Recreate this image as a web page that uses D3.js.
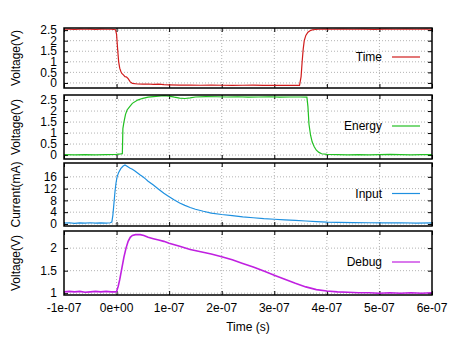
<!DOCTYPE html>
<html>
<head>
<meta charset="utf-8">
<script src="https://cdn.jsdelivr.net/npm/d3@7"></script>
<style>
  body { margin: 0; background: #fff; }
  text { font-family: "Liberation Sans", Arial, sans-serif; }
</style>
</head>
<body>
<div id="chart"></div>
<script>
// time in ns
const timeTrace = [
  [-100, 2.54], [-90, 2.55], [-80, 2.53], [-70, 2.55], [-60, 2.54], [-50, 2.55], [-40, 2.53], [-30, 2.55],
  [-20, 2.54], [-10, 2.54], [-2, 2.52], [0, 2.3], [2, 1.6], [4, 1.0], [6, 0.7], [8, 0.55], [10, 0.45],
  [13, 0.38], [16, 0.3], [19, 0.28], [22, 0.2], [26, 0.05], [30, -0.02], [40, -0.05], [50, -0.06],
  [60, -0.05], [70, -0.07], [80, -0.06], [90, -0.08], [100, -0.09], [120, -0.1], [140, -0.1], [160, -0.11],
  [180, -0.1], [200, -0.11], [220, -0.12], [240, -0.11], [260, -0.1], [280, -0.12], [300, -0.11],
  [320, -0.12], [340, -0.12], [348, -0.12], [351, 0.3], [353, 1.0], [355, 1.6], [357, 2.0], [360, 2.25],
  [364, 2.4], [368, 2.47], [372, 2.51], [378, 2.53], [385, 2.54], [395, 2.55], [410, 2.54], [430, 2.55],
  [450, 2.54], [470, 2.55], [490, 2.53], [510, 2.55], [530, 2.54], [550, 2.55], [570, 2.54], [590, 2.55], [600, 2.54]
];
const energyTrace = [
  [-100, 0.02], [-80, 0.01], [-60, 0.02], [-40, 0.01], [-20, 0.02], [0, 0.03], [8, 0.05], [11, 0.06],
  [12, 1.2], [14, 1.5], [17, 1.85], [20, 2.05], [25, 2.2], [30, 2.35], [40, 2.5], [50, 2.58], [60, 2.63],
  [70, 2.66], [80, 2.68], [90, 2.7], [100, 2.68], [110, 2.63], [120, 2.59], [130, 2.57], [140, 2.6],
  [150, 2.64], [170, 2.66], [190, 2.65], [210, 2.64], [230, 2.65], [250, 2.63], [270, 2.64], [290, 2.65],
  [310, 2.63], [330, 2.64], [350, 2.64], [362, 2.63], [364, 2.2], [366, 1.4], [369, 0.9], [372, 0.6],
  [376, 0.38], [380, 0.22], [385, 0.12], [390, 0.06], [400, 0.03], [420, 0.02], [440, 0.01], [460, 0.02],
  [480, 0.01], [500, 0.02], [520, 0.03], [540, 0.02], [560, 0.01], [580, 0.02], [600, 0.02]
];
const inputTrace = [
  [-100, 0.3], [-90, 0.4], [-80, 0.2], [-70, 0.35], [-60, 0.3], [-50, 0.4], [-40, 0.25], [-30, 0.35],
  [-20, 0.3], [-12, 0.4], [-9, 0.6], [-7, 3], [-5, 7], [-3, 11], [-1, 14], [1, 16], [4, 17.5], [8, 18.8],
  [12, 19.6], [16, 20], [20, 19.6], [25, 19], [30, 18.6], [35, 18], [40, 17.3], [45, 16.6], [50, 16],
  [55, 15.3], [60, 14.5], [70, 13.2], [80, 11.8], [90, 10.4], [100, 9.2], [110, 8.1], [120, 7.1], [130, 6.3],
  [140, 5.6], [150, 5], [165, 4.3], [180, 3.7], [200, 3.2], [220, 2.8], [240, 2.4], [260, 2.1], [280, 1.8],
  [300, 1.6], [320, 1.4], [340, 1.2], [360, 1.0], [380, 0.8], [400, 0.6], [420, 0.55], [450, 0.45],
  [480, 0.4], [510, 0.35], [540, 0.4], [570, 0.3], [600, 0.35]
];
const debugTrace = [
  [-100, 1.03], [-90, 1.04], [-80, 1.03], [-70, 1.04], [-60, 1.02], [-50, 1.03], [-40, 1.04], [-30, 1.03],
  [-20, 1.04], [-10, 1.03], [-2, 1.03], [0, 1.04], [3, 1.15], [6, 1.3], [10, 1.55], [14, 1.8], [18, 2.0],
  [22, 2.15], [26, 2.24], [30, 2.28], [36, 2.3], [45, 2.3], [52, 2.28], [60, 2.24], [70, 2.21], [80, 2.18],
  [90, 2.15], [100, 2.11], [120, 2.04], [140, 1.97], [160, 1.92], [180, 1.87], [200, 1.81], [220, 1.74],
  [240, 1.66], [260, 1.58], [280, 1.49], [300, 1.4], [320, 1.31], [340, 1.22], [360, 1.14], [380, 1.08],
  [400, 1.05], [420, 1.03], [440, 1.02], [460, 1.01], [480, 1.01], [500, 1.0], [520, 1.01], [540, 1.0],
  [560, 1.01], [580, 1.0], [600, 1.01]
];

const xTicks = [-100, 0, 100, 200, 300, 400, 500, 600];
const xTickLabels = ["-1e-07", "0e+00", "1e-07", "2e-07", "3e-07", "4e-07", "5e-07", "6e-07"];

const panels = [
  { name: "Time", unit: "Voltage(V)", data: timeTrace, color: "#d01c1c",
    domain: [-0.24, 2.6], ticks: [0, 0.5, 1, 1.5, 2, 2.5], top: 28, bottom: 88 },
  { name: "Energy", unit: "Voltage(V)", data: energyTrace, color: "#22c022",
    domain: [-0.18, 2.73], ticks: [0, 0.5, 1, 1.5, 2, 2.5], top: 95, bottom: 159 },
  { name: "Input", unit: "Current(mA)", data: inputTrace, color: "#1e90e0",
    domain: [-0.7, 20.7], ticks: [0, 4, 8, 12, 16], top: 163, bottom: 226 },
  { name: "Debug", unit: "Voltage(V)", data: debugTrace, color: "#c020e0",
    domain: [0.96, 2.38], ticks: [1, 1.5, 2], top: 231, bottom: 295 }
];

const width = 474;
const height = 351;
const left = 64, right = 432;

const svg = d3.select("#chart").append("svg")
  .attr("width", width)
  .attr("height", height);

const x = d3.scaleLinear().domain([-100, 600]).range([left, right]);

panels.forEach((p) => {
  const y = d3.scaleLinear().domain(p.domain).range([p.bottom, p.top]);
  const g = svg.append("g");

  // grid
  g.selectAll(".gx").data(xTicks.slice(1, -1)).enter().append("line")
    .attr("x1", (d) => x(d)).attr("x2", (d) => x(d))
    .attr("y1", p.top).attr("y2", p.bottom)
    .attr("stroke", "#a0a0a0").attr("stroke-width", 0.8).attr("stroke-dasharray", "1,2");
  g.selectAll(".gy").data(p.ticks).enter().append("line")
    .attr("x1", left).attr("x2", right)
    .attr("y1", (d) => y(d)).attr("y2", (d) => y(d))
    .attr("stroke", "#a0a0a0").attr("stroke-width", 0.8).attr("stroke-dasharray", "1,2");

  // inner ticks
  const yAxisL = d3.axisRight(y).tickValues(p.ticks).tickSize(4).tickFormat("");
  const yAxisR = d3.axisLeft(y).tickValues(p.ticks).tickSize(4).tickFormat("");
  g.append("g").attr("transform", `translate(${left},0)`).call(yAxisL).call((s) => s.select(".domain").remove());
  g.append("g").attr("transform", `translate(${right},0)`).call(yAxisR).call((s) => s.select(".domain").remove());
  g.append("g").attr("transform", `translate(0,${p.bottom})`)
    .call(d3.axisTop(x).tickValues(xTicks).tickSize(4).tickFormat(""))
    .call((s) => s.select(".domain").remove());
  g.append("g").attr("transform", `translate(0,${p.top})`)
    .call(d3.axisBottom(x).tickValues(xTicks).tickSize(4).tickFormat(""))
    .call((s) => s.select(".domain").remove());

  // tick labels
  g.selectAll(".yl").data(p.ticks).enter().append("text")
    .attr("x", left - 7).attr("y", (d) => y(d))
    .attr("dy", "0.35em").attr("text-anchor", "end")
    .style("font-size", "12px").attr("fill", "#000")
    .text((d) => d);

  // trace
  const line = d3.line().x((d) => x(d[0])).y((d) => y(d[1]));
  g.append("path").datum(p.data)
    .attr("d", line)
    .attr("fill", "none")
    .attr("stroke", p.color)
    .attr("stroke-width", p.name === "Debug" ? 1.6 : 1.2);

  // frame
  g.append("rect")
    .attr("x", left).attr("y", p.top)
    .attr("width", right - left).attr("height", p.bottom - p.top)
    .attr("fill", "none").attr("stroke", "#000").attr("stroke-width", 1.5);

  // y title
  g.append("text")
    .attr("transform", `translate(20,${(p.top + p.bottom) / 2}) rotate(-90)`)
    .attr("text-anchor", "middle")
    .style("font-size", "12px")
    .text(p.unit);

  // key
  const ky = (p.top + p.bottom) / 2 - 1;
  g.append("text")
    .attr("x", 382).attr("y", ky).attr("dy", "0.35em")
    .attr("text-anchor", "end")
    .style("font-size", "12px")
    .text(p.name);
  g.append("line")
    .attr("x1", 392).attr("x2", 420).attr("y1", ky).attr("y2", ky)
    .attr("stroke", p.color).attr("stroke-width", 1.2);
});

// x labels
svg.selectAll(".xl").data(xTicks).enter().append("text")
  .attr("x", (d) => x(d)).attr("y", 308).attr("dy", "0.35em")
  .attr("text-anchor", "middle")
  .style("font-size", "12px")
  .text((d, i) => xTickLabels[i]);

svg.append("text")
  .attr("x", (left + right) / 2).attr("y", 327).attr("dy", "0.35em")
  .attr("text-anchor", "middle")
  .style("font-size", "12px")
  .text("Time (s)");
</script>
</body>
</html>
